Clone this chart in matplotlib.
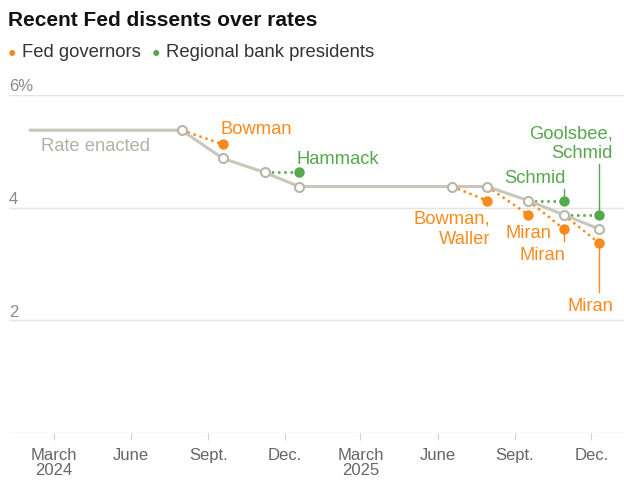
import numpy as np
import pandas as pd
import matplotlib
matplotlib.use("Agg")
import matplotlib.pyplot as plt
import matplotlib.dates as mdates

plt.rcParams['font.family'] = ['Liberation Sans', 'DejaVu Sans']

# Rate enacted (midpoint of target range), at meetings where it is marked
rate_dates = ["2024-01-31", "2024-07-31", "2024-09-18", "2024-11-07", "2024-12-18",
              "2025-06-18", "2025-07-30", "2025-09-17", "2025-10-29", "2025-12-10"]
rate_values = [5.375, 5.375, 4.875, 4.625, 4.375, 4.375, 4.375, 4.125, 3.875, 3.625]

# Dissents: preferred rate at each meeting
dissent_dates = ["2024-09-18", "2024-12-18", "2025-07-30", "2025-09-17",
                 "2025-10-29", "2025-10-29", "2025-12-10", "2025-12-10"]
dissent_rates = [5.125, 4.625, 4.125, 3.875, 3.625, 4.125, 3.375, 3.875]
dissent_group = ["gov", "pres", "gov", "gov", "gov", "pres", "gov", "pres"]
dissent_names = ["Bowman", "Hammack", "Bowman,\nWaller", "Miran", "Miran", "Schmid",
                 "Miran", "Goolsbee,\nSchmid"]

tick_dates = ["2024-03-01", "2024-06-01", "2024-09-01", "2024-12-01",
              "2025-03-01", "2025-06-01", "2025-09-01", "2025-12-01"]
tick_labels = ["March\n2024", "June", "Sept.", "Dec.", "March\n2025", "June", "Sept.", "Dec."]

ORANGE = "#fb8a1e"
GREEN = "#55a84b"
LINE = "#c9c7bc"
TXT = "#666666"
colors = {"gov": ORANGE, "pres": GREEN}

rd = pd.to_datetime(rate_dates)
dd = pd.to_datetime(dissent_dates)

fig = plt.figure(figsize=(6.24, 4.81), dpi=100)
ax = fig.add_axes([9/624, (481-434)/481, 615/624, (434-96)/481])

x0 = pd.Timestamp("2024-03-01")
ax.set_xlim(mdates.date2num(x0 - pd.Timedelta(days=53.6)),
            mdates.date2num(x0 + pd.Timedelta(days=679)))
ax.set_ylim(0, 6)

for y in [0, 2, 4, 6]:
    ax.axhline(y, color="#e4e4e4", lw=1, zorder=0)
    lab = f"{y}%" if y == 6 else f"{y}"
    if y > 0:
        ax.text(0, y + 0.03, lab, transform=ax.get_yaxis_transform(), ha="left",
                va="bottom", fontsize=12, color="#8a8a8a")

# dotted lines from previous meeting to dissent
for d, r, g in zip(dd, dissent_rates, dissent_group):
    prev = [i for i in range(len(rd)) if rd[i] < d][-1]
    ax.plot([rd[prev], d], [rate_values[prev], r], ls=(0, (1, 1.5)), lw=1.8,
            color=colors[g], zorder=2)

ax.plot(rd, rate_values, color=LINE, lw=2.2, zorder=3, solid_capstyle="butt")
ax.plot(rd[1:], rate_values[1:], ls="none", marker="o", ms=6.5, mfc="white",
        mec="#b9b7ac", mew=1.5, zorder=4)
for d, r, g in zip(dd, dissent_rates, dissent_group):
    ax.plot(d, r, marker="o", ms=7.5, color=colors[g], mec="none", zorder=5)

# labels: (dx days, dy, ha, leader end y)
lab_pos = [
    (-3, 0.28, "left", None),
    (-3, 0.25, "left", None),
    (4, -0.49, "right", None),
    (27, -0.31, "right", None),
    (2, -0.45, "right", 3.4),
    (2, 0.41, "right", 4.33),
    (17, -1.11, "right", 2.5),
    (17, 1.27, "right", 4.78),
]
for (dx, dy, ha, lead), d, r, g, n in zip(lab_pos, dd, dissent_rates, dissent_group, dissent_names):
    c = colors[g]
    ax.text(d + pd.Timedelta(days=dx), r + dy, n, ha=ha, va="center", fontsize=13.2,
            color=c, linespacing=1.2, zorder=6)
    if lead is not None:
        ax.plot([d, d], [r, lead], color=c, lw=1, zorder=1)

ax.text(rd[0] + pd.Timedelta(days=14), 5.11, "Rate enacted", ha="left", va="center",
        fontsize=13.2, color="#b3b1a6")

ax.set_xticks([mdates.date2num(pd.Timestamp(t)) for t in tick_dates])
ax.set_xticklabels(tick_labels, fontsize=12, color=TXT, linespacing=1.05)
ax.tick_params(axis="x", length=5, color="#d0d0d0", pad=5)
ax.set_yticks([])
for s in ax.spines.values():
    s.set_visible(False)

fig.text(8/624, 1 - 20/481, "Recent Fed dissents over rates", fontsize=15, fontweight="bold",
         ha="left", va="center", color="#121212")
fig.text(8/624, 1 - 53/481, "\u25cf", fontsize=10, color=ORANGE, ha="left", va="center")
fig.text(22/624, 1 - 53/481, "Fed governors", fontsize=13.3, color="#333333", ha="left", va="center")
fig.text(152/624, 1 - 53/481, "\u25cf", fontsize=10, color=GREEN, ha="left", va="center")
fig.text(166/624, 1 - 53/481, "Regional bank presidents", fontsize=13.3, color="#333333",
         ha="left", va="center")

fig.savefig("out.png", dpi=100)
